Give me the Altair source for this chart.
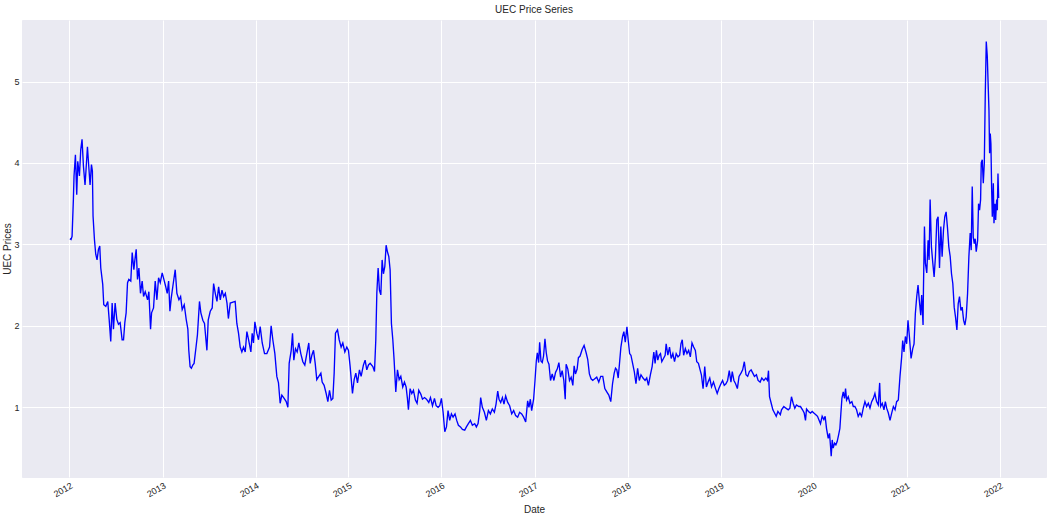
import altair as alt
import pandas as pd
import numpy as np

# --- values (decimal year, price) ---
t_2012 = [2012.005, 2012.018, 2012.029, 2012.043, 2012.050, 2012.065, 2012.079, 2012.090, 2012.108, 2012.122,
          2012.136, 2012.151, 2012.168, 2012.179, 2012.194, 2012.208, 2012.222, 2012.237, 2012.247, 2012.254,
          2012.269, 2012.283, 2012.297, 2012.312, 2012.326, 2012.337, 2012.358, 2012.369, 2012.391, 2012.412,
          2012.427, 2012.444, 2012.459, 2012.473, 2012.491, 2012.509, 2012.527, 2012.545, 2012.566, 2012.581,
          2012.595, 2012.609, 2012.624, 2012.638, 2012.659, 2012.674, 2012.692, 2012.703, 2012.717, 2012.731,
          2012.746, 2012.763, 2012.781, 2012.796, 2012.814, 2012.839, 2012.853, 2012.871, 2012.882, 2012.903,
          2012.921, 2012.939, 2012.957, 2012.975, 2012.996, 2013.014, 2013.032, 2013.050, 2013.065, 2013.079,
          2013.093, 2013.111, 2013.136, 2013.154, 2013.176, 2013.194, 2013.211, 2013.233, 2013.254, 2013.272]
p_2012 = [3.07, 3.06, 3.10, 3.55, 3.84, 4.10, 3.61, 4.02, 3.84, 4.16,
          4.29, 3.96, 3.73, 3.92, 4.20, 3.96, 3.73, 3.98, 3.90, 3.35,
          3.06, 2.88, 2.81, 2.94, 2.98, 2.71, 2.51, 2.26, 2.24, 2.30,
          2.08, 1.81, 2.28, 1.96, 2.28, 2.08, 2.02, 2.04, 1.83, 1.83,
          2.04, 2.16, 2.53, 2.57, 2.55, 2.90, 2.69, 2.81, 2.94, 2.57,
          2.71, 2.40, 2.55, 2.36, 2.42, 2.32, 2.42, 1.96, 2.16, 2.22,
          2.55, 2.32, 2.59, 2.53, 2.65, 2.57, 2.49, 2.40, 2.55, 2.18,
          2.34, 2.49, 2.69, 2.40, 2.32, 2.36, 2.20, 2.26, 2.08, 1.96]

t_2013 = [2013.282, 2013.296, 2013.310, 2013.325, 2013.339, 2013.361, 2013.375, 2013.397, 2013.412, 2013.433,
          2013.451, 2013.477, 2013.491, 2013.513, 2013.534, 2013.549, 2013.567, 2013.585, 2013.603, 2013.621,
          2013.639, 2013.657, 2013.675, 2013.693, 2013.708]
p_2013 = [1.70, 1.50, 1.48, 1.52, 1.54, 1.75, 1.89, 2.30, 2.16, 2.07,
          2.03, 1.70, 2.07, 2.18, 2.22, 2.52, 2.40, 2.30, 2.48, 2.32,
          2.44, 2.36, 2.40, 2.28, 2.09]

t_2014 = [2013.728, 2013.781, 2013.799, 2013.817, 2013.835, 2013.853, 2013.871, 2013.889, 2013.907, 2013.925,
          2013.950, 2013.964, 2013.978, 2013.993, 2014.014, 2014.032, 2014.050, 2014.072, 2014.097, 2014.122,
          2014.151, 2014.168, 2014.186, 2014.208, 2014.229, 2014.247, 2014.265, 2014.283, 2014.308, 2014.330,
          2014.348, 2014.362, 2014.384, 2014.398, 2014.412, 2014.430, 2014.448, 2014.466, 2014.487, 2014.509,
          2014.530, 2014.552, 2014.573, 2014.588, 2014.606, 2014.624, 2014.642, 2014.659, 2014.681, 2014.703,
          2014.717, 2014.738, 2014.760, 2014.778, 2014.796, 2014.814, 2014.832, 2014.846, 2014.860, 2014.882,
          2014.900, 2014.921, 2014.939, 2014.961, 2014.982]
p_2014 = [2.28, 2.30, 2.03, 1.91, 1.74, 1.68, 1.74, 1.68, 1.93, 1.83,
          1.68, 1.91, 1.79, 2.05, 1.91, 1.83, 1.99, 1.79, 1.66, 1.66,
          1.74, 2.00, 1.83, 1.66, 1.38, 1.30, 1.05, 1.15, 1.11, 1.07,
          1.00, 1.54, 1.70, 1.91, 1.58, 1.72, 1.68, 1.79, 1.66, 1.56,
          1.52, 1.66, 1.79, 1.54, 1.64, 1.70, 1.54, 1.34, 1.38, 1.42,
          1.31, 1.27, 1.17, 1.07, 1.21, 1.09, 1.11, 1.42, 1.91, 1.95,
          1.83, 1.74, 1.79, 1.68, 1.74]

t_2015 = [2015.000, 2015.018, 2015.043, 2015.061, 2015.079, 2015.097, 2015.118, 2015.136, 2015.161, 2015.179,
          2015.197, 2015.215, 2015.233, 2015.262, 2015.280, 2015.294, 2015.305, 2015.319, 2015.333, 2015.348,
          2015.362, 2015.376, 2015.391, 2015.405, 2015.419, 2015.434, 2015.448, 2015.462, 2015.477, 2015.491,
          2015.509, 2015.527, 2015.545, 2015.563, 2015.584, 2015.602, 2015.620, 2015.634, 2015.645, 2015.663,
          2015.681, 2015.699, 2015.720, 2015.738, 2015.756]
p_2015 = [1.70, 1.50, 1.17, 1.34, 1.42, 1.30, 1.46, 1.38, 1.52, 1.58,
          1.46, 1.52, 1.54, 1.50, 1.44, 1.83, 2.40, 2.71, 2.44, 2.38,
          2.81, 2.64, 2.73, 2.99, 2.91, 2.85, 2.69, 2.03, 1.83, 1.58,
          1.19, 1.46, 1.34, 1.38, 1.25, 1.31, 1.25, 1.11, 0.97, 1.23,
          1.17, 1.21, 1.09, 1.05, 1.21]

t_2016 = [2015.779, 2015.796, 2015.818, 2015.839, 2015.864, 2015.882, 2015.904, 2015.925, 2015.943, 2015.964,
          2015.982, 2016.000, 2016.018, 2016.036, 2016.054, 2016.071, 2016.089, 2016.107, 2016.125, 2016.146,
          2016.164, 2016.182, 2016.204, 2016.225, 2016.250, 2016.268, 2016.289, 2016.311, 2016.332, 2016.357,
          2016.375, 2016.393, 2016.411, 2016.421, 2016.439, 2016.461, 2016.482, 2016.504, 2016.525, 2016.546,
          2016.568, 2016.586, 2016.604, 2016.618, 2016.636, 2016.654, 2016.671, 2016.689, 2016.711, 2016.732,
          2016.754, 2016.775, 2016.796, 2016.818, 2016.839, 2016.861, 2016.882, 2016.904, 2016.925, 2016.939,
          2016.954, 2016.968, 2016.989]
p_2016 = [1.16, 1.10, 1.12, 1.10, 1.06, 1.12, 1.02, 1.11, 1.02, 1.00,
          1.02, 1.11, 0.94, 0.70, 0.76, 0.96, 0.84, 0.92, 0.88, 0.92,
          0.84, 0.78, 0.76, 0.73, 0.72, 0.76, 0.80, 0.84, 0.78, 0.80,
          0.76, 0.80, 0.96, 1.12, 1.00, 0.94, 0.84, 0.96, 0.92, 0.98,
          0.94, 1.04, 1.20, 1.10, 1.06, 1.12, 1.04, 1.14, 1.06, 1.02,
          0.92, 0.96, 0.90, 0.88, 0.94, 0.92, 0.88, 0.82, 1.08, 1.00,
          1.10, 0.96, 1.10]

t_2017 = [2017.004, 2017.018, 2017.029, 2017.043, 2017.054, 2017.068, 2017.082, 2017.096, 2017.111, 2017.125,
          2017.139, 2017.154, 2017.171, 2017.189, 2017.207, 2017.225, 2017.243, 2017.261, 2017.279, 2017.296,
          2017.314, 2017.329, 2017.339, 2017.357, 2017.375, 2017.393, 2017.411, 2017.425, 2017.439, 2017.457,
          2017.471, 2017.489, 2017.511, 2017.532, 2017.554, 2017.571, 2017.589, 2017.607, 2017.625, 2017.668,
          2017.690, 2017.711, 2017.733, 2017.755, 2017.776, 2017.798, 2017.819, 2017.838, 2017.856, 2017.870,
          2017.884, 2017.899, 2017.913, 2017.928, 2017.946, 2017.960, 2017.975, 2017.993]
p_2017 = [1.33, 1.57, 1.67, 1.55, 1.80, 1.57, 1.55, 1.63, 1.84, 1.67,
          1.57, 1.53, 1.33, 1.41, 1.33, 1.43, 1.47, 1.55, 1.37, 1.45,
          1.33, 1.10, 1.53, 1.47, 1.33, 1.37, 1.27, 1.51, 1.41, 1.47,
          1.61, 1.63, 1.71, 1.76, 1.67, 1.59, 1.41, 1.35, 1.33, 1.37,
          1.31, 1.38, 1.38, 1.23, 1.19, 1.15, 1.07, 1.29, 1.42, 1.48,
          1.46, 1.36, 1.54, 1.74, 1.87, 1.93, 1.80, 1.99]

t_2018 = [2018.007, 2018.022, 2018.036, 2018.054, 2018.072, 2018.090, 2018.108, 2018.126, 2018.144, 2018.166,
          2018.188, 2018.206, 2018.224, 2018.245, 2018.264, 2018.282, 2018.296, 2018.310, 2018.325, 2018.339,
          2018.354, 2018.368, 2018.386, 2018.404, 2018.415, 2018.433, 2018.451, 2018.469, 2018.487, 2018.505,
          2018.523, 2018.542, 2018.560, 2018.574, 2018.588, 2018.603, 2018.621, 2018.639, 2018.657, 2018.675,
          2018.693, 2018.711, 2018.729, 2018.744, 2018.762, 2018.780, 2018.794, 2018.812, 2018.830, 2018.848,
          2018.866, 2018.884, 2018.903, 2018.924, 2018.946, 2018.964, 2018.982]
p_2018 = [1.82, 1.66, 1.64, 1.54, 1.44, 1.29, 1.48, 1.33, 1.40, 1.36,
          1.33, 1.36, 1.27, 1.40, 1.50, 1.68, 1.54, 1.70, 1.58, 1.64,
          1.66, 1.56, 1.60, 1.64, 1.78, 1.64, 1.74, 1.60, 1.66, 1.56,
          1.66, 1.62, 1.64, 1.78, 1.83, 1.64, 1.72, 1.66, 1.70, 1.62,
          1.79, 1.74, 1.70, 1.56, 1.54, 1.46, 1.40, 1.23, 1.50, 1.25,
          1.31, 1.36, 1.25, 1.31, 1.23, 1.17, 1.23]

t_2019 = [2019.004, 2019.022, 2019.040, 2019.058, 2019.076, 2019.094, 2019.112, 2019.126, 2019.144, 2019.162,
          2019.181, 2019.199, 2019.220, 2019.238, 2019.256, 2019.274, 2019.292, 2019.310, 2019.329, 2019.347,
          2019.365, 2019.386, 2019.404, 2019.426, 2019.444, 2019.466, 2019.487, 2019.505, 2019.516, 2019.527,
          2019.545, 2019.563, 2019.581, 2019.599, 2019.617, 2019.643, 2019.656, 2019.681, 2019.703, 2019.728,
          2019.746, 2019.763, 2019.781, 2019.799, 2019.817, 2019.842, 2019.860, 2019.882, 2019.900, 2019.914,
          2019.925, 2019.946, 2019.968, 2019.986]
p_2019 = [1.29, 1.33, 1.27, 1.29, 1.33, 1.45, 1.31, 1.44, 1.33, 1.29,
          1.23, 1.38, 1.42, 1.46, 1.56, 1.40, 1.38, 1.44, 1.46, 1.42,
          1.38, 1.40, 1.33, 1.31, 1.36, 1.33, 1.36, 1.33, 1.45, 1.13,
          1.05, 0.97, 0.93, 0.89, 0.95, 0.91, 0.97, 1.01, 0.99, 0.97,
          0.99, 1.13, 1.05, 0.99, 1.03, 1.01, 1.01, 0.97, 0.93, 0.84,
          0.98, 0.95, 0.93, 0.95]

t_2020 = [2020.004, 2020.025, 2020.043, 2020.061, 2020.075, 2020.093, 2020.111, 2020.125, 2020.140, 2020.158,
          2020.172, 2020.183, 2020.190, 2020.201, 2020.211, 2020.226, 2020.240, 2020.254, 2020.269, 2020.283,
          2020.294, 2020.305, 2020.319, 2020.333, 2020.344, 2020.355, 2020.373, 2020.391, 2020.412, 2020.427,
          2020.444, 2020.462, 2020.480, 2020.498, 2020.516, 2020.534, 2020.552, 2020.570, 2020.588, 2020.606,
          2020.624, 2020.642, 2020.659, 2020.677, 2020.695, 2020.710, 2020.720, 2020.738, 2020.756, 2020.771,
          2020.785, 2020.803, 2020.821, 2020.839, 2020.857, 2020.875, 2020.892, 2020.910, 2020.928, 2020.946,
          2020.957, 2020.971, 2020.986]
p_2020 = [0.93, 0.91, 0.89, 0.84, 0.80, 0.89, 0.85, 0.89, 0.74, 0.62,
          0.68, 0.52, 0.40, 0.60, 0.50, 0.56, 0.54, 0.58, 0.66, 0.74,
          0.93, 1.11, 1.19, 1.11, 1.23, 1.09, 1.13, 1.05, 1.07, 1.01,
          1.01, 0.97, 0.89, 0.93, 0.89, 0.99, 1.07, 1.01, 1.05, 0.99,
          1.07, 1.11, 1.17, 1.07, 1.03, 1.30, 1.01, 1.05, 0.97, 1.07,
          0.99, 0.93, 0.84, 0.93, 1.01, 0.97, 1.07, 1.09, 1.38, 1.62,
          1.82, 1.68, 1.87]

t_2021 = [2021.000, 2021.014, 2021.029, 2021.047, 2021.065, 2021.079, 2021.093, 2021.108, 2021.122, 2021.136,
          2021.151, 2021.161, 2021.176, 2021.180, 2021.191, 2021.201, 2021.216, 2021.230, 2021.241, 2021.252,
          2021.266, 2021.281, 2021.295, 2021.309, 2021.324, 2021.338, 2021.353, 2021.367, 2021.381, 2021.396,
          2021.410, 2021.424, 2021.439, 2021.453, 2021.468, 2021.482, 2021.496, 2021.511, 2021.525, 2021.540,
          2021.554, 2021.568, 2021.583, 2021.597, 2021.612, 2021.626, 2021.640, 2021.655, 2021.669, 2021.683,
          2021.694, 2021.705, 2021.716, 2021.727, 2021.737, 2021.748, 2021.763, 2021.773, 2021.784, 2021.795,
          2021.802, 2021.813, 2021.824, 2021.835, 2021.845, 2021.856, 2021.867, 2021.878, 2021.885, 2021.892,
          2021.899, 2021.906, 2021.914, 2021.921, 2021.932, 2021.939, 2021.950, 2021.957, 2021.968, 2021.975,
          2021.982, 2021.989]
p_2021 = [1.78, 2.07, 1.87, 1.60, 1.72, 1.78, 2.15, 2.36, 2.50, 2.31,
          2.13, 2.38, 2.01, 2.44, 3.22, 2.77, 2.65, 3.05, 2.81, 3.55,
          2.97, 2.77, 2.60, 2.85, 3.30, 3.34, 2.71, 3.22, 2.85, 3.18,
          3.34, 3.40, 3.20, 2.97, 2.85, 2.64, 2.52, 2.23, 2.11, 1.95,
          2.27, 2.36, 2.19, 2.23, 2.07, 2.01, 2.11, 2.40, 2.85, 3.14,
          2.93, 3.71, 3.09, 3.01, 3.07, 2.91, 3.05, 3.50, 3.42, 3.55,
          4.00, 4.04, 3.75, 4.00, 4.82, 5.49, 5.31, 4.90, 4.65, 4.12,
          4.36, 4.24, 3.67, 3.34, 3.75, 3.26, 3.50, 3.30, 3.55, 3.42,
          3.87, 3.57]

year_ticks = list(range(2012, 2023))
price_ticks = [1, 2, 3, 4, 5]

times = t_2012 + t_2013 + t_2014 + t_2015 + t_2016 + t_2017 + t_2018 + t_2019 + t_2020 + t_2021
prices = p_2012 + p_2013 + p_2014 + p_2015 + p_2016 + p_2017 + p_2018 + p_2019 + p_2020 + p_2021


def to_date(y):
    yr = int(np.floor(y))
    start = pd.Timestamp(year=yr, month=1, day=1)
    end = pd.Timestamp(year=yr + 1, month=1, day=1)
    return (start + (end - start) * (y - yr)).strftime("%Y-%m-%dT%H:%M:%S")


df = pd.DataFrame({"Date": [to_date(t) for t in times], "Price": prices})

FONT = "Liberation Sans"
TXT = "#262626"

chart = (
    alt.Chart(df)
    .mark_line(color="#0000FF", strokeWidth=1.35)
    .encode(
        x=alt.X(
            "Date:T",
            title="Date",
            scale=alt.Scale(domain=[alt.DateTime(year=2011, month=6, date=29),
                                    alt.DateTime(year=2022, month=7, date=2)]),
            axis=alt.Axis(
                values=[alt.DateTime(year=y, month=1, date=1) for y in year_ticks],
                format="%Y",
                labelAngle=330,
                labelAlign="right",
                labelBaseline="top",
                labelPadding=4,
                titlePadding=6,
            ),
        ),
        y=alt.Y(
            "Price:Q",
            title="UEC Prices",
            scale=alt.Scale(domain=[0.145, 5.755], nice=False, zero=False),
            axis=alt.Axis(values=price_ticks, labelPadding=3, titlePadding=1),
        ),
    )
    .properties(
        width=1024,
        height=457,
        title=alt.TitleParams("UEC Price Series", fontSize=10, font=FONT, fontWeight="normal",
                              color=TXT, anchor="middle", offset=5),
        padding={"left": 22, "top": 20, "right": 4, "bottom": 43},
        autosize=alt.AutoSizeParams(type="none"),
    )
    .configure_view(fill="#EAEAF2", stroke="#EAEAF2")
    .configure_axis(
        grid=True,
        gridColor="#FFFFFF",
        gridWidth=1,
        domain=False,
        ticks=False,
        labelFont=FONT,
        labelFontSize=9,
        labelColor=TXT,
        titleFont=FONT,
        titleFontSize=10,
        titleFontWeight="normal",
        titleColor=TXT,
    )
)

chart.save("out.html", embed_options={"renderer": "svg", "actions": False})
